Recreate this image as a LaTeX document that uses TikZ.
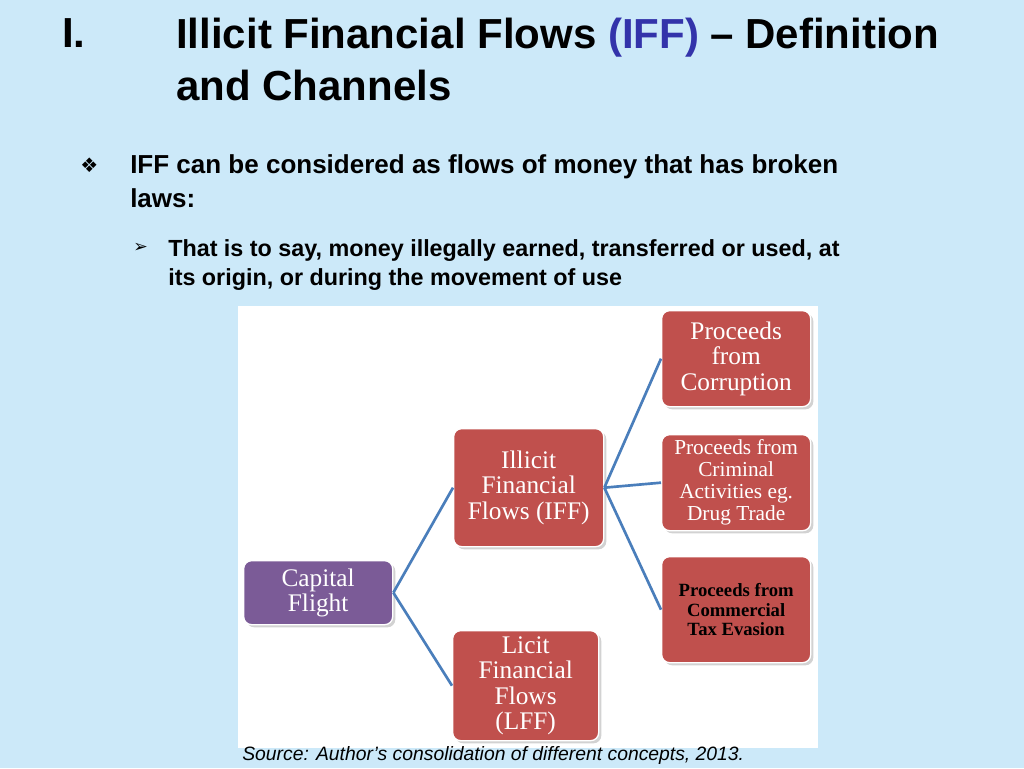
\documentclass[tikz,border=0pt]{standalone}
\usepackage{fontspec}
\setmainfont{Liberation Sans}
\newfontfamily\nodefont{Liberation Serif}
\newfontfamily\dejavu{DejaVu Sans}
\usetikzlibrary{shadows}
\definecolor{bg}{HTML}{CCE9F9}
\definecolor{redbox}{HTML}{C0504D}
\definecolor{purbox}{HTML}{7B5B97}
\definecolor{link}{HTML}{4A7EBB}
\definecolor{iffblue}{HTML}{3333AA}
\begin{document}
\begin{tikzpicture}[x=0.75pt,y=-0.75pt,
 box/.style={rounded corners=6pt,draw=white,line width=1pt,drop shadow={opacity=0.35,shadow xshift=2pt,shadow yshift=-2pt},
   text=white,font=\nodefont\fontsize{19}{19}\selectfont,align=center,anchor=north west,inner sep=1pt},
 conn/.style={draw=link,line width=2pt},
 txt/.style={anchor=north west,inner sep=0pt,align=left}]
\useasboundingbox (0,0) rectangle (1024,768);
\fill[bg] (0,0) rectangle (1024,768);
\fill[white] (238,306) rectangle (818,748);
\node[txt,font=\bfseries\fontsize{31.5}{39}\selectfont] (t1) at (62,18) {I.};
\node[txt,font=\bfseries\fontsize{31.5}{39}\selectfont] (t2) at (176,18) {Illicit Financial Flows \textcolor{iffblue}{(IFF)} -- Definition\\and Channels};
\node[txt,font=\dejavu\fontsize{15}{15}\selectfont] (b1) at (80,158) {❖};
\node[txt,font=\bfseries\fontsize{19.5}{26}\selectfont] (l1) at (130,154) {IFF can be considered as flows of money that has broken\\laws:};
\node[txt,font=\dejavu\fontsize{13}{13}\selectfont] (b2) at (133,243) {➢};
\node[txt,font=\bfseries\fontsize{17.5}{22}\selectfont] (l2) at (168,239) {That is to say, money illegally earned, transferred or used, at\\its origin, or during the movement of use};
\node[box,fill=purbox,minimum width=111.75pt,minimum height=48pt] (cf) at (243,560) {Capital\\Flight};
\node[box,fill=redbox,minimum width=112.5pt,minimum height=88.5pt] (iff) at (453,428) {Illicit\\Financial\\Flows (IFF)};
\node[box,fill=redbox,minimum width=109.5pt,minimum height=82.5pt] (lff) at (452,630) {Licit\\Financial\\Flows\\(LFF)} ;
\node[box,fill=redbox,minimum width=111.75pt,minimum height=72pt] (p1) at (661,310) {Proceeds\\from\\Corruption};
\node[box,fill=redbox,minimum width=111.75pt,minimum height=72pt,font=\nodefont\fontsize{16}{16.5}\selectfont] (p2) at (661,434) {Proceeds from\\Criminal\\Activities eg.\\Drug Trade};
\node[box,fill=redbox,minimum width=111.75pt,minimum height=79.5pt,text=black,font=\nodefont\bfseries\fontsize{14}{14.5}\selectfont] (p3) at (661,556) {Proceeds from\\Commercial\\Tax Evasion};
\draw[conn] (cf.east) -- (iff.west);
\draw[conn] (cf.east) -- (lff.west);
\draw[conn] (iff.east) -- (p1.west);
\draw[conn] (iff.east) -- (p2.west);
\draw[conn] (iff.east) -- (p3.west);
\node[txt,font=\itshape\fontsize{14.5}{16}\selectfont] (src) at (242,746) {Source: Author’s consolidation of different concepts, 2013.};
\end{tikzpicture}
\end{document}
